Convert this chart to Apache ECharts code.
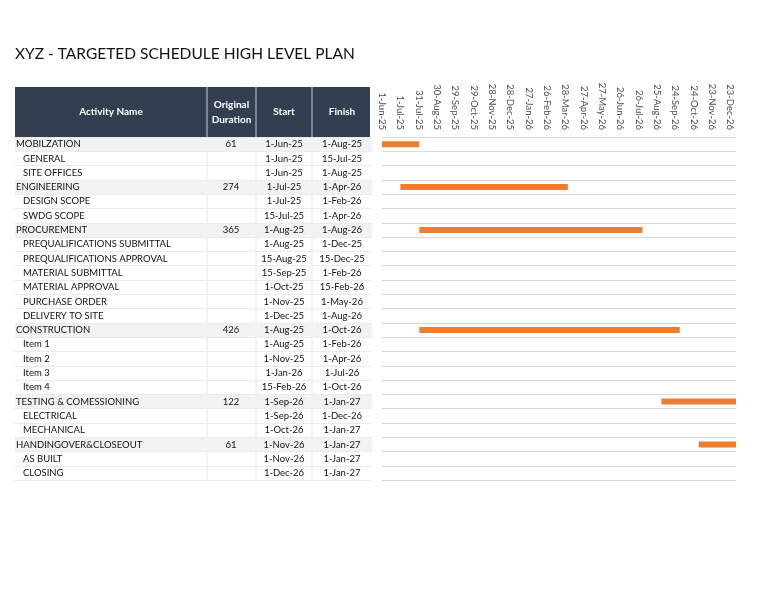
<!DOCTYPE html>
<html><head><meta charset="utf-8">
<script src="https://cdn.jsdelivr.net/npm/echarts@6/dist/echarts.min.js"></script>
<style>html,body{margin:0;padding:0;background:#fff}#c{width:768px;height:594px}</style>
</head><body><div id="c"></div>
<script>
// ---- data ----
const activities = ['MOBILZATION','GENERAL','SITE OFFICES','ENGINEERING','DESIGN SCOPE','SWDG SCOPE','PROCUREMENT','PREQUALIFICATIONS SUBMITTAL','PREQUALIFICATIONS APPROVAL','MATERIAL SUBMITTAL','MATERIAL APPROVAL','PURCHASE ORDER','DELIVERY TO SITE','CONSTRUCTION','Item 1','Item 2','Item 3','Item 4','TESTING & COMESSIONING','ELECTRICAL','MECHANICAL','HANDINGOVER&CLOSEOUT','AS BUILT','CLOSING'];
const durations = ['61','','','274','','','365','','','','','','','426','','','','','122','','','61','',''];
const starts = ['1-Jun-25','1-Jun-25','1-Jun-25','1-Jul-25','1-Jul-25','15-Jul-25','1-Aug-25','1-Aug-25','15-Aug-25','15-Sep-25','1-Oct-25','1-Nov-25','1-Dec-25','1-Aug-25','1-Aug-25','1-Nov-25','1-Jan-26','15-Feb-26','1-Sep-26','1-Sep-26','1-Oct-26','1-Nov-26','1-Nov-26','1-Dec-26'];
const finishes = ['1-Aug-25','15-Jul-25','1-Aug-25','1-Apr-26','1-Feb-26','1-Apr-26','1-Aug-26','1-Dec-25','15-Dec-25','1-Feb-26','15-Feb-26','1-May-26','1-Aug-26','1-Oct-26','1-Feb-26','1-Apr-26','1-Jul-26','1-Oct-26','1-Jan-27','1-Dec-26','1-Jan-27','1-Jan-27','1-Jan-27','1-Jan-27'];
const headers = ['Activity Name','Original\nDuration','Start','Finish'];
const axisStart = '1-Jun-25';
const axisEnd = '1-Jan-27';
const tickDays = 30;

// ---- helpers ----
const MONTHS = ['Jan','Feb','Mar','Apr','May','Jun','Jul','Aug','Sep','Oct','Nov','Dec'];
const DAY = 86400000;
function parseD(s){ const p = s.split('-'); return Date.UTC(2000 + (+p[2]), MONTHS.indexOf(p[1]), +p[0]); }
const base = parseD(axisStart);
const toDay = s => Math.round((parseD(s) - base) / DAY);
function fmtDay(v){ const d = new Date(base + v * DAY); return d.getUTCDate() + '-' + MONTHS[d.getUTCMonth()] + '-' + String(d.getUTCFullYear()).slice(2); }
const isGroup = durations.map(d => d !== '');
const maxDay = toDay(axisEnd);
const lastTick = Math.floor(maxDay / tickDays) * tickDays;

const FONT = 'Lato';
const TXT = '#111111';
const FS = 9.5;
const nRows = activities.length;

// layout
const tableL = 15, tableR = 372, colX = [207, 256, 312];
const ganttL = 382, ganttR = 736, bodyTop = 137, rowH = 14.3;
const bodyH = nRows * rowH;

const chart = echarts.init(document.getElementById('c'), null, {renderer: 'canvas'});

const commonCat = {
  type: 'category', inverse: true, data: activities,
  axisLine: {show: false}, axisTick: {show: false}
};
const colAxis = (center, arr) => Object.assign({}, commonCat, {
  gridIndex: 1, position: 'left', offset: tableL - center, z: 5,
  axisLabel: {interval: 0, align: 'center', margin: 0, fontSize: FS, color: TXT, fontFamily: FONT,
    formatter: (v, i) => arr[i]}
});

const option = {
  animation: false,
  backgroundColor: '#fff',
  textStyle: {fontFamily: FONT},
  title: {
    text: 'XYZ - TARGETED SCHEDULE HIGH LEVEL PLAN',
    left: 15, top: 46, padding: 0,
    textStyle: {fontFamily: FONT, fontSize: 15.5, fontWeight: 'normal', color: '#111'}
  },
  grid: [
    {left: ganttL, top: bodyTop, width: ganttR - ganttL, height: bodyH},
    {left: tableL, top: bodyTop, width: tableR - tableL, height: bodyH}
  ],
  xAxis: [
    {
      gridIndex: 0, type: 'value', position: 'top', min: 0, max: maxDay, interval: tickDays,
      axisLine: {show: false}, axisTick: {show: false}, splitLine: {show: false},
      axisLabel: {
        rotate: 90, margin: 7, fontSize: 9.5, color: '#505050', fontFamily: FONT,
        formatter: v => (v % tickDays === 0 && v <= lastTick) ? fmtDay(v) : ''
      }
    },
    {gridIndex: 1, type: 'value', min: 0, max: 1, show: false}
  ],
  yAxis: [
    Object.assign({}, commonCat, {
      gridIndex: 0, axisLabel: {show: false},
      splitLine: {show: true, interval: 0, lineStyle: {color: '#d9d9d9', width: 1}}
    }),
    Object.assign({}, commonCat, {
      gridIndex: 1, position: 'left', offset: 0, z: 5,
      splitLine: {show: true, interval: 0, lineStyle: {color: '#ebebeb', width: 1}},
      axisLabel: {
        interval: 0, align: 'left', margin: -1, fontSize: FS, color: TXT, fontFamily: FONT,
        formatter: (v, i) => isGroup[i] ? '{g|' + activities[i] + '}' : '{s|' + activities[i] + '}',
        rich: {g: {fontSize: FS, color: TXT, fontFamily: FONT}, s: {fontSize: FS, color: TXT, fontFamily: FONT, padding: [0, 0, 0, 7]}}
      }
    }),
    colAxis(231, durations),
    colAxis(284, starts),
    colAxis(342, finishes)
  ],
  graphic: [
    {type: 'rect', shape: {x: tableL, y: 87, width: 355, height: bodyTop - 87}, style: {fill: '#333f50'}, z: 1},
    ...colX.map(x => ({type: 'line', shape: {x1: x, y1: 87, x2: x, y2: bodyTop}, style: {stroke: '#c9ced6', lineWidth: 1}, z: 2})),
    ...colX.map(x => ({type: 'line', shape: {x1: x, y1: bodyTop, x2: x, y2: bodyTop + bodyH}, style: {stroke: '#e6e6e6', lineWidth: 1}, z: 0})),
    {type: 'text', x: (tableL + colX[0]) / 2, y: 112, style: {text: headers[0], fill: '#fff', font: 'bold 10px ' + FONT, align: 'center', verticalAlign: 'middle'}, z: 3},
    {type: 'text', x: (colX[0] + colX[1]) / 2, y: 112, style: {text: headers[1], fill: '#fff', font: 'bold 10px ' + FONT, align: 'center', verticalAlign: 'middle', lineHeight: 15}, z: 3},
    {type: 'text', x: (colX[1] + colX[2]) / 2, y: 112, style: {text: headers[2], fill: '#fff', font: 'bold 10px ' + FONT, align: 'center', verticalAlign: 'middle'}, z: 3},
    {type: 'text', x: (colX[2] + tableR) / 2, y: 112, style: {text: headers[3], fill: '#fff', font: 'bold 10px ' + FONT, align: 'center', verticalAlign: 'middle'}, z: 3}
  ],
  series: [
    {
      name: 'rowfill', type: 'bar', xAxisIndex: 1, yAxisIndex: 1, silent: true,
      barWidth: '100%', itemStyle: {color: '#f2f2f2'}, z: 1,
      data: isGroup.map(g => g ? 1 : '-')
    },
    {
      name: 'offset', type: 'bar', xAxisIndex: 0, yAxisIndex: 0, stack: 'gantt', silent: true,
      barWidth: 6, itemStyle: {color: 'transparent'},
      data: starts.map((s, i) => isGroup[i] ? toDay(s) : '-')
    },
    {
      name: 'duration', type: 'bar', xAxisIndex: 0, yAxisIndex: 0, stack: 'gantt', silent: true,
      barWidth: 6, itemStyle: {color: '#ed7d31'},
      data: starts.map((s, i) => isGroup[i] ? toDay(finishes[i]) - toDay(s) : '-')
    }
  ]
};
chart.setOption(option);
</script></body></html>
